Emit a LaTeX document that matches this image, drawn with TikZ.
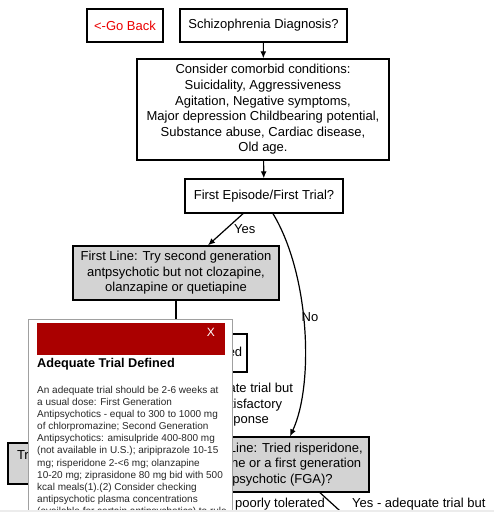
\documentclass[tikz,border=0pt]{standalone}
\usepackage{fontspec}
\setmainfont{Liberation Sans}
\usepackage{tikz}
\usetikzlibrary{arrows.meta}
\definecolor{boxgray}{RGB}{211,211,211}
\definecolor{popred}{RGB}{170,0,0}
\definecolor{linkred}{RGB}{235,0,0}
\definecolor{popframe}{RGB}{160,160,160}
\definecolor{poptext}{RGB}{40,40,40}
\newcommand{\LINK}[0]{linkred}
\newcommand{\GREY}[0]{boxgray}
\newcommand{\BoxFont}[0]{\fontsize{13}{15.6}\selectfont}

\begin{document}
\begin{tikzpicture}[x=1pt, y=-1pt,
  flowbox/.style={draw, line width=1.4pt, inner sep=0pt, align=center, font=\BoxFont},
  greybox/.style={flowbox, fill=\GREY},
  flowarrow/.style={-{Latex[length=7pt,width=6pt]}, line width=1.2pt},
  edgelabel/.style={font=\BoxFont, inner sep=0pt, align=center}]

  \fill[white] (0,0) rectangle (494,512);
  \useasboundingbox (0,0) rectangle (494,512);

  %% top row
  \node[flowbox, minimum width=76pt, minimum height=33pt, text=\LINK] (back) at (125,25.5) {<-Go Back};
  \node[flowbox, minimum width=167pt, minimum height=33pt] (diag) at (263.5,25.5) {Schizophrenia Diagnosis?};

  \node[flowbox, minimum width=252pt, minimum height=101pt] (comorb) at (263,109.5)
  {Consider comorbid conditions:\\ Suicidality, Aggressiveness\\ Agitation, Negative symptoms,\\
   Major depression Childbearing potential,\\ Substance abuse, Cardiac disease,\\ Old age.};

  \node[flowbox, minimum width=158pt, minimum height=34pt] (first) at (264,196) {First Episode/First Trial?};

  \node[greybox, minimum width=206pt, minimum height=54pt] (line1) at (176,273)
  {First Line: Try second generation\\ antpsychotic but not clozapine,\\ olanzapine or quetiapine};

  \node[flowbox, minimum width=142pt, minimum height=38pt] (trial) at (176,353) {Adequate Trial Defined};

  \node[greybox, minimum width=194pt, minimum height=55pt] (line2) at (272,464.5)
  {Second Line: Tried risperidone,\\ olanzapine or a first generation\\ antipsychotic (FGA)?};

  \node[greybox, minimum width=118pt, minimum height=41pt] (other) at (67,463.5)
  {Try an alternative\\ antipsychotic};

  %% connectors
  \draw[flowarrow] (diag) -- (comorb);
  \draw[flowarrow] (comorb) -- (first);
  \draw[flowarrow] ([xshift=-21pt]first.south) --
  node[pos=0.5, anchor=west, xshift=8pt, edgelabel]{Yes}
  ([xshift=32pt]line1.north); %% yes
  \draw[flowarrow] ([xshift=9pt]first.south) .. controls (310,275) and (314,385) .. ([xshift=18pt]line2.north); %% no
  \node[edgelabel] (nolbl) at (310,317) {No};
  \draw[flowarrow] (line1) -- (trial);
  \draw[flowarrow] (trial.south) -- ([xshift=-57pt]line2.north);
  \node[edgelabel] (adeqlbl) at (242,405) {Adequate trial but\\ unsatisfactory\\ response};

  \coordinate (bottomend) at (350,520);
  \draw[line width=1.2pt] ([xshift=48pt]line2.south) -- (bottomend);
  \node[edgelabel, anchor=base east] (tollbl) at (325,507.5) {Yes: poorly tolerated};
  \node[edgelabel, anchor=base west] (yeslbl) at (352,507.5) {Yes - adequate trial but};

  %% popup
  \draw[fill=white, draw=popframe, line width=0.8pt] (28,319) rectangle (232,530);
  \fill[popred] (37,323) rectangle (225,355);
  \node[text=white, font=\fontsize{12}{12}\selectfont, inner sep=0pt] (closex) at (211,332) {X};
  \node[anchor=base west, inner sep=0pt, font=\bfseries\fontsize{12.7}{14}\selectfont] (poptitle) at (37,367.5) {Adequate Trial Defined};
  \node[anchor=north west, inner sep=0pt, align=left, text=poptext, font=\fontsize{10}{12.15}\selectfont] (popbody) at (37,385.7)
  {An adequate trial should be 2-6 weeks at\\
   a usual dose: First Generation\\
   Antipsychotics - equal to 300 to 1000 mg\\
   of chlorpromazine; Second Generation\\
   Antipsychotics: amisulpride 400-800 mg\\
   (not available in U.S.); aripiprazole 10-15\\
   mg; risperidone 2-<6 mg; olanzapine\\
   10-20 mg; ziprasidone 80 mg bid with 500\\
   kcal meals(1).(2) Consider checking\\
   antipsychotic plasma concentrations\\
   (available for certain antipsychotics) to rule};

  %% bottom strip
  \fill[gray!15] (0,509.5) rectangle (494,512);

\end{tikzpicture}
\end{document}
